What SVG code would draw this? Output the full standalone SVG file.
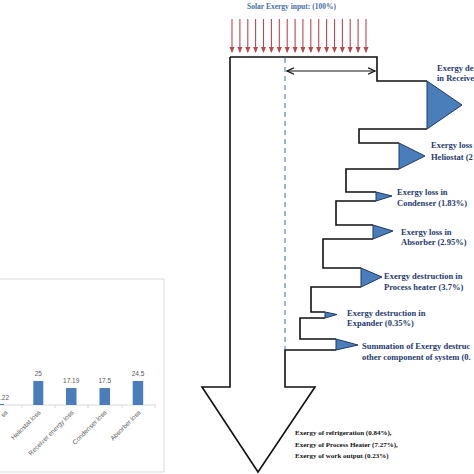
<svg xmlns="http://www.w3.org/2000/svg" width="474" height="474" viewBox="0 0 474 474">
<defs>
<style>
.lbl{font-family:"Liberation Serif","Times New Roman",serif;font-weight:bold;font-size:8.5px;fill:#1f3a6e}
.out{font-family:"Liberation Serif","Times New Roman",serif;font-weight:bold;font-size:7px;fill:#111}
.ttl{font-family:"Liberation Serif","Times New Roman",serif;font-weight:bold;font-size:7.5px;fill:#4a6fa5}
.ch{font-family:"Liberation Sans",Arial,sans-serif;font-size:6.5px;fill:#595959}
.flow{fill:none;stroke:#111;stroke-width:1.6;stroke-linejoin:miter}
.tri{fill:#4a7ebb;stroke:#1f3864;stroke-width:1}
.sun{stroke:#b9474f;stroke-width:1.1;marker-end:url(#rh)}
.bar{fill:#4a7ebb}
</style>
<marker id="rh" markerWidth="6" markerHeight="6" refX="5" refY="3" orient="auto" markerUnits="userSpaceOnUse" viewBox="0 0 6 6">
<path d="M0,0.5 L6,3 L0,5.5 Z" fill="#b9474f"/>
</marker>
<marker id="ah" markerWidth="8" markerHeight="8" refX="7" refY="4" orient="auto-start-reverse" markerUnits="userSpaceOnUse" viewBox="0 0 8 8">
<path d="M0,0.8 L7,4 L0,7.2" fill="none" stroke="#111" stroke-width="1.2"/>
</marker>
</defs>
<rect width="474" height="474" fill="#fff"/>

<g id="chart">
<path d="M0,279 H164 V472 H0" fill="none" stroke="#d9d9d9" stroke-width="1"/>
<line x1="0" y1="405" x2="156" y2="405" stroke="#d9d9d9" stroke-width="1"/>
<g stroke="#d9d9d9" stroke-width="1">
<line x1="22" y1="405" x2="22" y2="408"/><line x1="55" y1="405" x2="55" y2="408"/><line x1="88" y1="405" x2="88" y2="408"/><line x1="122" y1="405" x2="122" y2="408"/><line x1="155" y1="405" x2="155" y2="408"/>
</g>
<rect class="bar" x="0" y="404" width="4" height="1"/>
<rect class="bar" x="33.3" y="381" width="10" height="24"/>
<rect class="bar" x="66" y="388" width="10.5" height="17"/>
<rect class="bar" x="99.5" y="388" width="10.5" height="17"/>
<rect class="bar" x="132.7" y="381" width="10.5" height="24"/>
<text class="ch" x="0" y="399.5">.22</text>
<text class="ch" x="38.3" y="375.5" text-anchor="middle">25</text>
<text class="ch" x="71.2" y="382.5" text-anchor="middle">17.19</text>
<text class="ch" x="104.8" y="382.5" text-anchor="middle">17.5</text>
<text class="ch" x="138" y="375.5" text-anchor="middle">24.5</text>
<text class="ch" x="8" y="413" text-anchor="end" transform="rotate(-45 8 413)">ss</text>
<text class="ch" x="41" y="413" text-anchor="end" transform="rotate(-45 41 413)">Heliostat loss</text>
<text class="ch" x="74" y="413" text-anchor="end" transform="rotate(-45 74 413)">Receiver energy loss</text>
<text class="ch" x="107" y="413" text-anchor="end" transform="rotate(-45 107 413)">Condenser loss</text>
<text class="ch" x="141" y="413" text-anchor="end" transform="rotate(-45 141 413)">Absorber loss</text>
</g>

<g id="solar-input">
<text class="ttl" x="291.5" y="9" text-anchor="middle">Solar Exergy input: (100%)</text>
<g>
<line class="sun" x1="232" y1="19" x2="232" y2="52"/>
<line class="sun" x1="239.9" y1="19" x2="239.9" y2="52"/>
<line class="sun" x1="247.8" y1="19" x2="247.8" y2="52"/>
<line class="sun" x1="255.6" y1="19" x2="255.6" y2="52"/>
<line class="sun" x1="263.5" y1="19" x2="263.5" y2="52"/>
<line class="sun" x1="271.4" y1="19" x2="271.4" y2="52"/>
<line class="sun" x1="279.3" y1="19" x2="279.3" y2="52"/>
<line class="sun" x1="287.2" y1="19" x2="287.2" y2="52"/>
<line class="sun" x1="295.1" y1="19" x2="295.1" y2="52"/>
<line class="sun" x1="302.9" y1="19" x2="302.9" y2="52"/>
<line class="sun" x1="310.8" y1="19" x2="310.8" y2="52"/>
<line class="sun" x1="318.7" y1="19" x2="318.7" y2="52"/>
<line class="sun" x1="326.6" y1="19" x2="326.6" y2="52"/>
<line class="sun" x1="334.5" y1="19" x2="334.5" y2="52"/>
<line class="sun" x1="342.4" y1="19" x2="342.4" y2="52"/>
<line class="sun" x1="350.2" y1="19" x2="350.2" y2="52"/>
<line class="sun" x1="358.1" y1="19" x2="358.1" y2="52"/>
<line class="sun" x1="366" y1="19" x2="366" y2="52"/>
</g>
</g>

<g id="connectors">
<path class="flow" d="M230,57 H377 V81 H427 M427,129 H359 V143 H399 M399,169 H346 V192 H376 M376,201 H336 V225 H373 M373,239 H323 V268 H361 M361,287 H311 V312 H325 M325,318 H300 V339 H336 M336,350 H285 V387 H315 L258,472 L202,387 H230 V57"/>
<line x1="285" y1="58" x2="285" y2="349" stroke="#6d8fc0" stroke-width="1.3" stroke-dasharray="5,4"/>
<line x1="287" y1="71" x2="375" y2="71" stroke="#111" stroke-width="1.2" marker-start="url(#ah)" marker-end="url(#ah)"/>
</g>

<g id="receiver">
<polygon class="tri" points="427,81 462,105 427,129"/>
<text class="lbl" x="437" y="71">Exergy de</text>
<text class="lbl" x="437" y="81">in Receive</text>
</g>
<g id="heliostat">
<polygon class="tri" points="399,143 425,156 399,169"/>
<text class="lbl" x="431" y="148">Exergy loss</text>
<text class="lbl" x="431" y="160">Heliostat (2</text>
</g>
<g id="condenser">
<polygon class="tri" points="376,192 392,196 376,201"/>
<text class="lbl" x="397" y="195">Exergy loss in</text>
<text class="lbl" x="397" y="206">Condenser (1.83%)</text>
</g>
<g id="absorber">
<polygon class="tri" points="373,225 393,231 373,239"/>
<text class="lbl" x="401" y="235">Exergy loss in</text>
<text class="lbl" x="401" y="245">Absorber (2.95%)</text>
</g>
<g id="process-heater">
<polygon class="tri" points="361,268 382,277 361,287"/>
<text class="lbl" x="384" y="279">Exergy destruction in</text>
<text class="lbl" x="384" y="290">Process heater (3.7%)</text>
</g>
<g id="expander">
<polygon class="tri" points="325,312 337,314.5 325,318"/>
<text class="lbl" x="347" y="316">Exergy destruction in</text>
<text class="lbl" x="347" y="326">Expander (0.35%)</text>
</g>
<g id="other">
<polygon class="tri" points="336,339 358,345 336,350"/>
<text class="lbl" x="362" y="349">Summation of Exergy destruc</text>
<text class="lbl" x="362" y="360">other component of system (0.</text>
</g>
<g id="output">
<text class="out" x="295" y="435">Exergy of refrigeration (0.84%),</text>
<text class="out" x="295" y="447">Exergy of Process Heater (7.27%),</text>
<text class="out" x="295" y="458">Exergy of work output (0.23%)</text>
</g>
</svg>
